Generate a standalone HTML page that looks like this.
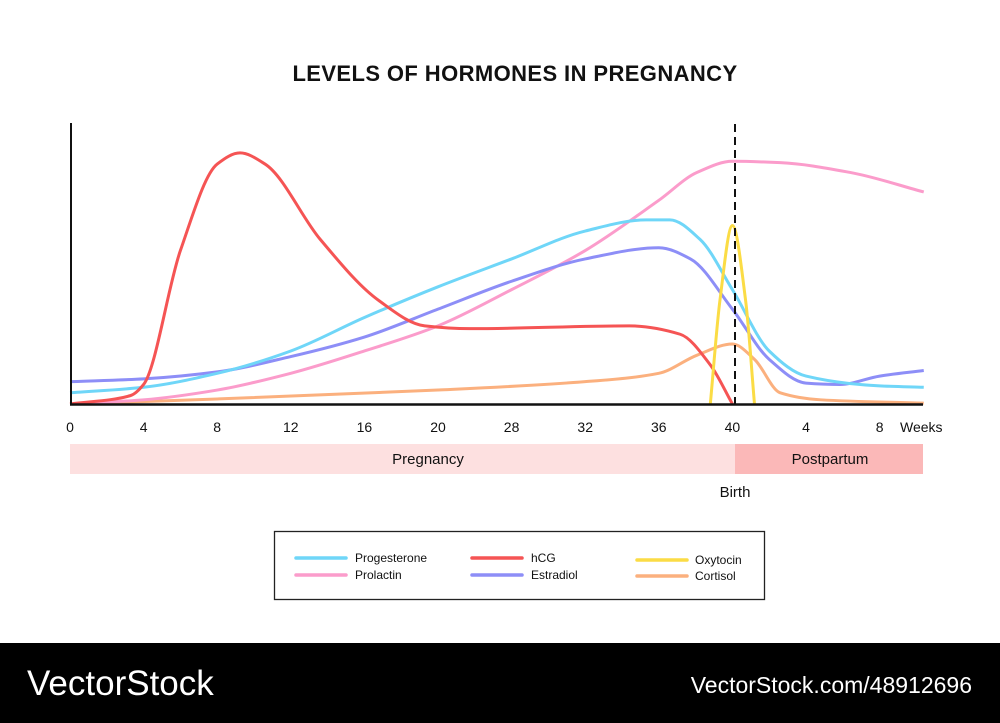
<!DOCTYPE html>
<html><head><meta charset="utf-8">
<style>
body{margin:0;width:1000px;height:723px;background:#fff;overflow:hidden;font-family:"Liberation Sans",sans-serif;}
svg{position:absolute;left:0;top:0;}
</style></head>
<body>
<svg id="chart" width="1000" height="723" viewBox="0 0 1000 723">
  <text x="515" y="81" text-anchor="middle" font-size="22" font-weight="bold" letter-spacing="0.4" fill="#111">LEVELS OF HORMONES IN PREGNANCY</text>
  <g id="series"></g>
  <line x1="735" y1="124" x2="735" y2="404" stroke="#111" stroke-width="2" stroke-dasharray="8,5"/>
  <line x1="71" y1="123" x2="71" y2="405" stroke="#111" stroke-width="2"/>
  <line x1="70" y1="404.5" x2="923" y2="404.5" stroke="#111" stroke-width="2.5"/>
  <g id="ticks" font-size="14" fill="#111"></g>
  <text x="900" y="432" font-size="14" fill="#111">Weeks</text>
  <rect x="70" y="444" width="665" height="30" fill="#fde0e0"/>
  <rect x="735" y="444" width="188" height="30" fill="#fbb8b8"/>
  <text x="428" y="464" text-anchor="middle" font-size="15" fill="#111">Pregnancy</text>
  <text x="830" y="464" text-anchor="middle" font-size="15" fill="#111">Postpartum</text>
  <text x="735" y="497" text-anchor="middle" font-size="15" fill="#111">Birth</text>
  <g>
    <rect x="274.5" y="531.5" width="490" height="68" fill="#fff" stroke="#222" stroke-width="1.3"/>
    <g font-size="12" fill="#111">
      <line x1="296" y1="558" x2="346" y2="558" stroke="#6fd6f8" stroke-width="3.5" stroke-linecap="round"/>
      <text x="355" y="562">Progesterone</text>
      <line x1="296" y1="575" x2="346" y2="575" stroke="#fb9ccb" stroke-width="3.5" stroke-linecap="round"/>
      <text x="355" y="579">Prolactin</text>
      <line x1="472" y1="558" x2="522" y2="558" stroke="#f55454" stroke-width="3.5" stroke-linecap="round"/>
      <text x="531" y="562">hCG</text>
      <line x1="472" y1="575" x2="522" y2="575" stroke="#8d8ef7" stroke-width="3.5" stroke-linecap="round"/>
      <text x="531" y="579">Estradiol</text>
      <line x1="637" y1="560" x2="687" y2="560" stroke="#fbdc45" stroke-width="3.5" stroke-linecap="round"/>
      <text x="695" y="564">Oxytocin</text>
      <line x1="637" y1="576" x2="687" y2="576" stroke="#fbb07e" stroke-width="3.5" stroke-linecap="round"/>
      <text x="695" y="580">Cortisol</text>
    </g>
  </g>
  <rect x="0" y="643" width="1000" height="80" fill="#000"/>
  <text x="27" y="695" font-size="35" fill="#fff">VectorStock</text>
  <text x="972" y="693" text-anchor="end" font-size="23" fill="#fff">VectorStock.com/48912696</text>
</svg>
<script>
const tickLabels = ["0","4","8","12","16","20","28","32","36","40","4","8"];
// x in tick-index units, y in relative level (0-100)
const hcgX = [0,0.82,1.0,1.5,2.0,2.31,2.65,3.4,4.2,4.82,5.43,7.6,8.29,8.7,9];
const hcgY = [0,3,7,55,86,90,86,59,37,28,27,28,25,14,0];
const progX = [0,1,2,3,4,5,6,7,7.83,8.15,8.56,9,9.5,10,11,11.6];
const progY = [4,6,11,19,31,42,52,62,66,66,59,41,19,10,6.5,6];
const estrX = [0,1,2,3,4,5,6,7,8,8.43,9,9.5,10,10.46,11,11.6];
const estrY = [8,9,11.5,17,24,34,44,52,56,52,34,16,7.5,7,10,12];
const prolX = [0,1,2,3,4,5,6,7,8,8.52,9,9.65,10.6,11.6];
const prolY = [0,1.5,5,11,19,28,41,55,73,83,87,86.5,83,76];
const cortX = [0,2,5,7,8,8.52,9,9.3,9.65,10.2,11.6];
const cortY = [0,1.8,5,8,11,17.5,21.5,16,4,1.5,0.3];
const oxyX = [8.7,8.83,9,9.18,9.3];
const oxyY = [0,37,64,37,0];

const xs = i => 70 + i*73.6;
const ys = v => 404 - v*2.79;

const series = [
  ["cortisol", cortX, cortY, "#fbb07e"],
  ["prolactin", prolX, prolY, "#fb9ccb"],
  ["estradiol", estrX, estrY, "#8d8ef7"],
  ["progesterone", progX, progY, "#6fd6f8"],
  ["hcg", hcgX, hcgY, "#f55454"],
  ["oxytocin", oxyX, oxyY, "#fbdc45"]
];
// monotone cubic (Fritsch-Carlson) in pixel space
function path(X,Y){
  const px = X.map(xs), py = Y.map(ys), n = px.length;
  const d = [], m = new Array(n);
  for(let i=0;i<n-1;i++) d.push((py[i+1]-py[i])/(px[i+1]-px[i]));
  m[0]=d[0]; m[n-1]=d[n-2];
  for(let i=1;i<n-1;i++){
    if(d[i-1]*d[i]<=0) m[i]=0;
    else { const h0=px[i]-px[i-1], h1=px[i+1]-px[i];
      m[i]=3*(h0+h1)/((2*h1+h0)/d[i-1]+(h1+2*h0)/d[i]); }
  }
  let s="M"+px[0]+","+py[0];
  for(let i=0;i<n-1;i++){
    const h=(px[i+1]-px[i])/3;
    s+=" C"+(px[i]+h)+","+(py[i]+m[i]*h)+" "+(px[i+1]-h)+","+(py[i+1]-m[i+1]*h)+" "+px[i+1]+","+py[i+1];
  }
  return s;
}
const NS="http://www.w3.org/2000/svg";
const g=document.getElementById("series");
series.forEach(s=>{
  const el=document.createElementNS(NS,"path");
  el.setAttribute("d",path(s[1],s[2]));
  el.setAttribute("fill","none");
  el.setAttribute("stroke",s[3]);
  el.setAttribute("stroke-width","3");
  
  
  g.appendChild(el);
});
const tg=document.getElementById("ticks");
tickLabels.forEach((t,i)=>{
  const el=document.createElementNS(NS,"text");
  el.setAttribute("x",xs(i));
  el.setAttribute("y","432");
  el.setAttribute("text-anchor","middle");
  el.textContent=t;
  
  
  tg.appendChild(el);
});
</script>
</body></html>
